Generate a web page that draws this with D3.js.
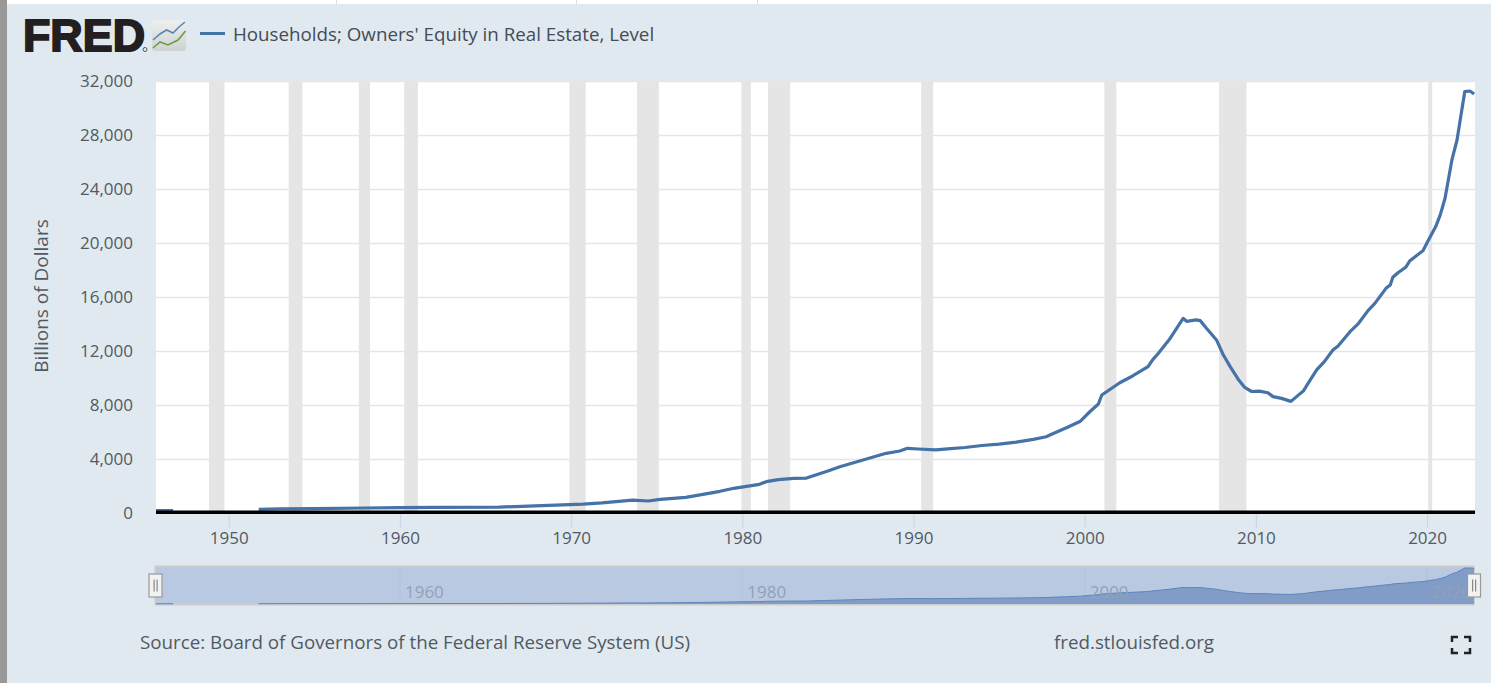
<!DOCTYPE html>
<html><head><meta charset="utf-8">
<script src="https://d3js.org/d3.v7.min.js"></script>
<style>
html,body{margin:0;padding:0;background:#e1e9f0;overflow:hidden}
svg{display:block}
text{font-family:"Open Sans",sans-serif}
</style></head><body><svg id="c" width="1491" height="683"></svg>
<script>
const title = "Households; Owners' Equity in Real Estate, Level";
const yAxisTitle = "Billions of Dollars";
const sourceText = "Source: Board of Governors of the Federal Reserve System (US)";
const siteText = "fred.stlouisfed.org";
const yTicks = [0,4000,8000,12000,16000,20000,24000,28000,32000];
const xTicks = [1950,1960,1970,1980,1990,2000,2010,2020];
const navTicks = [1960,1980,2000,2020];
const recessionStart = [1948.85,1953.5,1957.6,1960.25,1969.9,1973.85,1979.95,1981.5,1990.45,2001.15,2007.85,2020.07];
const recessionEnd   = [1949.75,1954.3,1958.25,1961.05,1970.85,1975.12,1980.5,1982.8,1991.15,2001.85,2009.45,2020.3];
const years = [1945.75,1946,1946.75,1947,1951.5,1951.75,1953,1955,1958,1960,1962,1965.8,1968.3,1970.7,1971.8,1973.6,1974.5,1975.2,1976.7,1978.7,1979.5,1981,1981.4,1982.1,1983,1983.75,1985,1985.7,1987.05,1988.4,1989.2,1989.65,1990.25,1991.3,1992,1993,1994,1995,1996,1997,1997.75,1998,1999,1999.75,2000.3,2000.8,2001,2002.05,2002.8,2003.7,2004,2004.27,2005,2005.75,2005.95,2006.5,2006.75,2007.1,2007.7,2008.1,2008.5,2009,2009.35,2009.75,2010.2,2010.7,2011,2011.5,2012.05,2012.6,2012.77,2013.05,2013.55,2014,2014.5,2014.8,2015.5,2016,2016.55,2016.95,2017.6,2017.85,2018,2018.3,2018.75,2019,2019.3,2019.76,2020.06,2020.5,2020.77,2021.05,2021.45,2021.75,2022.2,2022.5,2022.75];
const values = [175,180,185,null,null,270,300,330,370,400,415,440,540,660,750,960,890,1015,1160,1607,1830,2125,2320,2470,2570,2590,3110,3430,3925,4420,4590,4790,4740,4680,4750,4850,5000,5100,5250,5450,5650,5800,6350,6800,7500,8070,8740,9650,10150,10840,11400,11780,12950,14420,14200,14300,14250,13700,12820,11700,10840,9850,9300,9000,9030,8910,8620,8490,8270,8860,9030,9600,10600,11210,12070,12370,13430,14050,14990,15530,16640,16890,17460,17800,18200,18690,18990,19430,20170,21200,22080,23310,26150,27630,31210,31260,31040];
const data = years.map((yr,i)=>({yr,v:values[i]}));

const BG="#e1e9f0", LINE="#4572a7", TXT="#505a64", FS=17;
const svg=d3.select("#c");
// page furniture
svg.append("rect").attr("width",1491).attr("height",683).attr("fill",BG);
svg.append("rect").attr("width",1491).attr("height",4).attr("fill","#fff");
svg.append("rect").attr("width",7).attr("height",683).attr("fill","#999");
[336,576,757].forEach(x=>svg.append("rect").attr("x",x).attr("y",0).attr("width",1).attr("height",4).attr("fill","#ddd"));

const x=d3.scaleLinear().domain([1945.75,2022.8]).range([156,1475]);
const y=d3.scaleLinear().domain([0,32000]).range([513,81]);

svg.append("rect").attr("x",156).attr("y",81).attr("width",1319).attr("height",432).attr("fill","#fff");

// y axis + gridlines
const gy=svg.append("g").attr("transform","translate(156,0)")
  .call(d3.axisLeft(y).tickValues(yTicks).tickSize(-1319).tickPadding(23).tickFormat(d3.format(",")));
gy.select(".domain").remove();
gy.selectAll("line").attr("stroke","#e6e6e6").attr("stroke-width",1.6);
gy.selectAll("text").attr("font-size",FS).attr("fill",TXT).attr("font-family",'"Open Sans"');
// recession bands sit over the gridlines
svg.selectAll("rect.rec").data(recessionStart).join("rect").attr("class","rec")
  .attr("x",d=>x(d)).attr("y",81).attr("height",432)
  .attr("width",(d,i)=>x(recessionEnd[i])-x(d)).attr("fill","#e5e5e5");
// line
const line=d3.line().defined(d=>d.v!==null).x(d=>x(d.yr)).y(d=>y(d.v));
svg.append("path").datum(data).attr("d",line).attr("fill","none").attr("stroke",LINE)
  .attr("stroke-width",3.2).attr("stroke-linejoin","round");
// x axis
const gx=svg.append("g").attr("transform","translate(0,513)")
  .call(d3.axisBottom(x).tickValues(xTicks).tickSize(15).tickPadding(3.5).tickFormat(d3.format("d")));
gx.select(".domain").remove();
gx.selectAll("line").attr("stroke","#c9d7e6").attr("stroke-width",1.2);
gx.selectAll("text").attr("font-size",FS).attr("fill",TXT).attr("font-family",'"Open Sans"');
svg.append("line").attr("x1",156).attr("x2",1475).attr("y1",512.2).attr("y2",512.2).attr("stroke","#000").attr("stroke-width",3.6);

svg.append("text").attr("transform","translate(48,296) rotate(-90)").attr("text-anchor","middle")
  .attr("font-size",19).attr("fill",TXT).text(yAxisTitle);

// header
svg.append("text").attr("x",23).attr("y",50.5).attr("font-weight",700)
  .attr("font-size",44).attr("fill","#231f20").attr("stroke","#231f20").attr("stroke-width",1.8)
  .attr("textLength",122).attr("lengthAdjust","spacingAndGlyphs").style("font-family",'"Liberation Sans"').text("FRED");
svg.append("circle").attr("cx",145).attr("cy",49.5).attr("r",2).attr("fill","none").attr("stroke","#555").attr("stroke-width",1);
const defs=svg.append("defs");
const gr=defs.append("linearGradient").attr("id","ig").attr("x1",0).attr("x2",0).attr("y1",0).attr("y2",1);
gr.append("stop").attr("offset",0).attr("stop-color","#eef0f0");
gr.append("stop").attr("offset",1).attr("stop-color","#cfd2d2");
svg.append("rect").attr("x",152).attr("y",20).attr("width",34).attr("height",31).attr("rx",3).attr("fill","url(#ig)");
svg.append("path").attr("d","M153 40L160 34L166.5 30L173 33L179 27L185 22").attr("fill","none").attr("stroke","#5a86ad").attr("stroke-width",1.6);
svg.append("path").attr("d","M153 48L160 42L168 45L178 40L185.5 31").attr("fill","none").attr("stroke","#6e9a48").attr("stroke-width",1.6);
svg.append("line").attr("x1",200).attr("x2",225).attr("y1",33.5).attr("y2",33.5).attr("stroke",LINE).attr("stroke-width",3);
svg.append("text").attr("x",233).attr("y",41).attr("font-size",18.75).attr("fill","#444c55").text(title);

// navigator
const yn=d3.scaleLinear().domain([0,31260]).range([604,568]);
svg.append("rect").attr("x",155.5).attr("y",566.5).attr("width",1318).attr("height",38).attr("fill","#bac9e2").attr("stroke","#ccc").attr("stroke-width",2);
svg.selectAll("line.ng").data(navTicks).join("line").attr("class","ng")
  .attr("x1",d=>x(d)).attr("x2",d=>x(d)).attr("y1",567).attr("y2",604).attr("stroke","#b3c2dc");
const area=d3.area().defined(d=>d.v!==null).x(d=>x(d.yr)).y0(604).y1(d=>yn(d.v));
svg.append("path").datum(data).attr("d",area).attr("fill","#819dc7");
svg.append("path").datum(data).attr("d",d3.line().defined(d=>d.v!==null).x(d=>x(d.yr)).y(d=>yn(d.v)))
  .attr("fill","none").attr("stroke","#5f85bb").attr("stroke-width",1);
svg.selectAll("text.nl").data(navTicks).join("text").attr("class","nl")
  .attr("x",d=>x(d)+5).attr("y",598).attr("font-size",FS).attr("fill","#94a0b5").text(d=>d);
[155.5,1474].forEach(cx=>{
  const g=svg.append("g").attr("transform",`translate(${cx},585.5)`);
  g.append("rect").attr("x",-6.5).attr("y",-11.5).attr("width",13).attr("height",23).attr("fill","#f2f2f2").attr("stroke","#999").attr("stroke-width",1.2);
  [-2,1].forEach(d=>g.append("rect").attr("x",d).attr("y",-6).attr("width",1.2).attr("height",12).attr("fill","#888"));
});

// footer
svg.append("text").attr("x",140).attr("y",649).attr("font-size",18.75).attr("fill",TXT).text(sourceText);
svg.append("text").attr("x",1054).attr("y",649).attr("font-size",18.75).attr("fill",TXT).text(siteText);
svg.append("path").attr("d","M1452 642V637H1458M1464 637H1470V642M1470 648V653H1464M1458 653H1452V648")
  .attr("fill","none").attr("stroke","#222").attr("stroke-width",2.5);
</script></body></html>
